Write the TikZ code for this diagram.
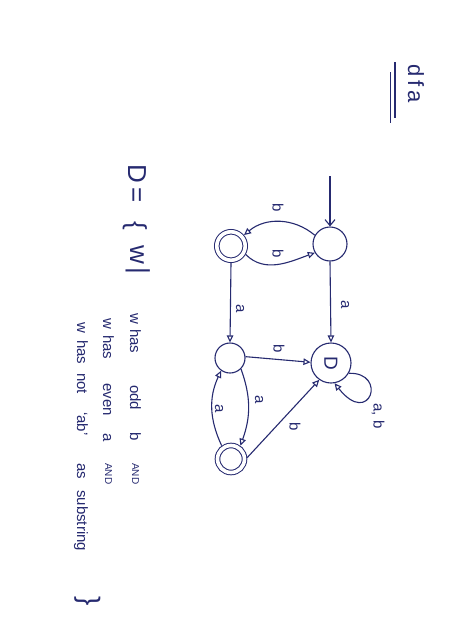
\documentclass[tikz,border=0pt]{standalone}
\usepackage{fontspec}
\setmainfont{Liberation Sans}
\usetikzlibrary{arrows.meta}
\definecolor{ink}{RGB}{38,42,112}
\begin{document}
\begin{tikzpicture}[x=1pt,y=1pt,
  state/.style={circle,draw=ink,line width=1.1pt,inner sep=0pt,minimum size=#1},
  acc/.style={circle,draw=ink,line width=1pt,double=white,double distance=3.6pt,inner sep=0pt,minimum size=#1,outer sep=2.8pt},
  edge/.style={draw=ink,line width=1.1pt,-{Triangle[open,length=7pt,width=6.5pt]}},
  initedge/.style={draw=ink,line width=1.1pt,-{Straight Barb[length=6pt,width=10pt]}},
  lab/.style={text=ink,rotate=-90,inner sep=0pt,font=\fontsize{15}{15}\selectfont},
  txt/.style={text=ink,rotate=-90,anchor=base west,inner sep=0pt,font=\fontsize{15}{15}\selectfont},
  big/.style={text=ink,rotate=-90,anchor=base west,inner sep=0pt,font=\fontsize{26}{26}\selectfont},
  small/.style={text=ink,rotate=-90,anchor=base west,inner sep=0pt,font=\fontsize{10}{10}\selectfont},
  uline/.style={draw=ink,line width=1.1pt}
]
\fill[white] (0,0) rectangle (474,-632);
\useasboundingbox (0,0) rectangle (474,-632);

% title
\node[text=ink,rotate=-90,anchor=base west,inner sep=0pt,font=\fontsize{22}{22}\selectfont] (title) at (408,-64) {d\hspace{4pt}f\hspace{4pt}a};
\coordinate (u1a) at (395,-62); \coordinate (u1b) at (395,-118);
\coordinate (u2a) at (390.5,-72); \coordinate (u2b) at (390.5,-123);
\draw[uline] (u1a) -- (u1b);
\draw[uline] (u2a) -- (u2b);

% set definition
\node[big] (dD) at (128,-164) {D};
\node[big] (deq) at (128,-187) {=};
\node[big] (dbr) at (128,-221) {\{};
\node[big] (dw) at (130,-245) {w};
\node[big] (dbar) at (131,-267) {|};

\node[txt] (l1w) at (130,-313) {w};
\node[txt] (l1a) at (130,-329) {has};
\node[txt] (l1b) at (130,-385) {odd};
\node[txt] (l1c) at (130,-432) {b};
\node[small] (l1d) at (132,-463) {AND};

\node[txt] (l2w) at (103,-318) {w};
\node[txt] (l2a) at (103,-335) {has};
\node[txt] (l2b) at (103,-383) {even};
\node[txt] (l2c) at (103,-433) {a};
\node[small] (l2d) at (105,-463) {AND};

\node[txt] (l3w) at (77,-322) {w};
\node[txt] (l3a) at (77,-340) {has};
\node[txt] (l3b) at (77,-373) {not};
\node[txt] (l3c) at (77,-412) {‘ab’};
\node[txt] (l3d) at (77,-463) {as};
\node[txt] (l3e) at (77,-490) {substring};
\node[text=ink,rotate=-90,inner sep=0pt,font=\fontsize{28}{28}\selectfont] (cbr) at (88,-601) {\}};

% states
\node[state=34pt] (S) at (330,-244) {};
\node[acc=28.4pt] (A) at (231,-246) {};
\node[state=30pt] (C) at (230,-358) {};
\node[state=40pt,text=ink,font=\fontsize{19}{19}\selectfont] (D) at (331,-363) {\rotatebox{-90}{D}};
\node[acc=27pt] (E) at (231,-459) {};

% edges
\coordinate (init) at (330,-176);
\draw[initedge] (init) -- (S.north);
\draw[edge] (S.150) to[out=140,in=40] (A.40);
\draw[edge] (A.-30) to[out=-45,in=-160] (S.-150);
\draw[edge] (A.south) -- (C.north);
\draw[edge] (S.south) -- (D.north);
\draw[edge] (C.5) -- (D.178);
\draw[edge] (C.-45) to[out=-70,in=70] (E.55);
\draw[edge] (E.125) to[out=115,in=-115] (C.-125);
\draw[edge] (E.5) -- (D.-125);
\draw[edge] (D.-30) .. controls (388,-372) and (370,-428) .. (D.-80);

% edge labels
\node[lab] (lb1) at (278,-208) {b};
\node[lab] (lb2) at (278,-254) {b};
\node[lab] (la1) at (240,-309) {a};
\node[lab] (la2) at (345,-305) {a};
\node[lab] (lb3) at (279,-349) {b};
\node[lab] (la3) at (259,-400) {a};
\node[lab] (la4) at (219,-409) {a};
\node[lab] (lb4) at (295,-427) {b};
\node[lab] (lab) at (378,-416) {a, b};
\end{tikzpicture}
\end{document}
